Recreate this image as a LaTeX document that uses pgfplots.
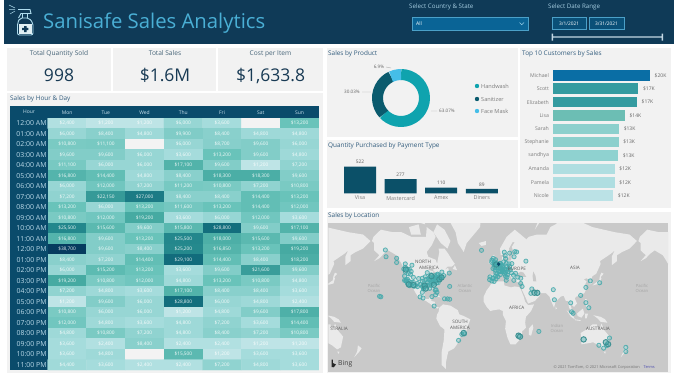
\documentclass[border=0pt]{standalone}
\usepackage{fontspec}
\setmainfont{Open Sans}
\usepackage{pgfplots}
\usepackage{pgfplotstable}
\pgfplotsset{compat=1.18}
\newcommand\fs[1]{\fontsize{#1}{#1}\selectfont}
\definecolor{navy}{RGB}{15,58,87}
\definecolor{panel}{RGB}{242,242,242}
\definecolor{ttl}{RGB}{50,92,125}
\definecolor{kpi}{RGB}{24,58,84}
\definecolor{kpit}{RGB}{70,100,120}
\definecolor{head}{RGB}{10,75,107}
\definecolor{hw}{RGB}{15,163,174}
\definecolor{sa}{RGB}{11,91,110}
\definecolor{fm}{RGB}{69,190,232}
\definecolor{paybar}{RGB}{11,80,104}
\definecolor{gr}{RGB}{125,125,125}
\definecolor{ocean}{RGB}{201,201,201}
\definecolor{landc}{RGB}{234,234,234}
\definecolor{dot}{RGB}{70,170,172}
\definecolor{pale}{RGB}{165,205,225}
\definecolor{tit}{RGB}{74,175,213}
\definecolor{iconln}{RGB}{175,220,238}
\definecolor{iconfl}{RGB}{225,240,245}
\definecolor{dd}{RGB}{10,100,150}
\definecolor{ddb}{RGB}{75,160,200}
\definecolor{chev}{RGB}{150,205,230}
\definecolor{dbox}{RGB}{10,80,120}
\definecolor{slider}{RGB}{195,215,228}
\definecolor{c1}{RGB}{10,110,165}
\definecolor{c2}{RGB}{52,155,160}
\definecolor{c3}{RGB}{108,190,180}
\definecolor{c4}{RGB}{140,208,205}
\definecolor{c5}{RGB}{143,210,208}
\definecolor{c6}{RGB}{175,222,225}
\definecolor{c7}{RGB}{187,226,230}
\pgfplotstableread[row sep=\\]{v\\
2400\\1200\\1200\\6000\\3600\\0\\13200\\
6000\\8400\\4800\\9900\\8400\\4800\\4800\\
10800\\11100\\0\\6000\\8700\\9600\\6000\\
9600\\9600\\6000\\3600\\13200\\9600\\4800\\
11100\\6000\\6000\\17100\\9600\\1200\\7200\\
16800\\14400\\4800\\8400\\18300\\18300\\9600\\
6000\\12000\\7200\\11200\\10800\\7200\\10800\\
7200\\22150\\27000\\8400\\8400\\14400\\13200\\
13200\\6000\\13200\\11600\\13200\\14400\\12000\\
10800\\12000\\19200\\3600\\6000\\12000\\3600\\
25500\\15600\\9600\\15800\\28800\\9600\\17100\\
16800\\9600\\13200\\25500\\18000\\15600\\9600\\
38700\\9600\\8400\\25200\\16850\\13200\\19200\\
8400\\7200\\14400\\29100\\14400\\8400\\18200\\
6000\\15200\\13200\\3600\\9600\\21600\\9600\\
19200\\10800\\12000\\4800\\13200\\10800\\4800\\
7200\\4800\\3600\\17100\\8400\\8400\\3600\\
1200\\9600\\6000\\28800\\6000\\4800\\2400\\
10800\\6000\\6000\\1200\\4800\\9600\\17800\\
12000\\4800\\3600\\4800\\7200\\3600\\14400\\
4800\\10800\\7200\\4800\\8400\\7200\\10800\\
3600\\2400\\8400\\2400\\2400\\1200\\1200\\
3600\\4800\\0\\15500\\1200\\3600\\3600\\
4400\\3600\\2400\\2400\\7200\\4800\\3600\\
}\heat
\pgfplotstablecreatecol[expr={\pgfplotstablerow}]{i}\heat
\pgfplotstableread[row sep=\\]{lon lat\\
-122.7 45.5\\-117.4 47.7\\-116 43.6\\-123 49.3\\-114 51\\-112 40.8\\-122.4 37.8\\-121.9 37.3\\-121.5 38.6\\-117.2 32.7\\-115 36\\-111 32.2\\-105 39.7\\-106.6 35\\-106.5 31.8\\-98.5 29.4\\-97.7 30.3\\-97.5 35.5\\-94.6 39\\-96 41.3\\-93.3 45\\-88 43\\-90.2 38.6\\-90 35.1\\-90 30\\-86.8 36.2\\-80.2 25.8\\-82.5 28\\-81.4 28.5\\-80.8 35.2\\-78.6 35.8\\-76.6 39.3\\-75.2 40\\-71 42.4\\-80 40.4\\-81.7 41.5\\-83 42.3\\-86 39.8\\-83 40\\-79.4 43.7\\-73.6 45.5\\-78.9 42.9\\-85.7 38.2\\-84.5 39.1\\-157.8 21.3\\-156 20.8\\-149.9 61.2\\-149 57\\-134.7 56\\-134.7 53\\-123 52\\-99 19.4\\-103 20.7\\-100 25.7\\-66 18.4\\-70 18.5\\-63 18\\-87 21\\-82 23\\-84 10\\-63 32\\-63.6 44.6\\-20 61\\
-125 48\\-120 48\\-115 46\\-119 44\\-124 42\\-120 39\\-118 37\\-116 34\\-120 35\\-124 38\\-112 36\\-109 33\\-100 32\\-103 34\\-100 37\\-95 33\\-92 33\\-93 36\\-88 33\\-85 35\\-82 37\\-80 38\\-78 40\\-76 42\\-85 41\\-90 41\\-92 39\\-88 37\\-100 40\\-98 32\\
-2.2 53.5\\-4.2 55.9\\-6.3 53.3\\-6 54.6\\-3.2 51.5\\-2.6 51.5\\2.3 48.9\\4.8 45.8\\5.4 43.3\\-0.6 44.8\\-1.5 47.2\\-4.5 48.4\\-3.7 40.4\\2.2 41.4\\-9.1 38.7\\-8.6 41.2\\-6 37.4\\-0.4 39.5\\12.5 41.9\\9.2 45.5\\14.3 40.9\\12.3 45.4\\13.4 38.1\\7.5 47\\8.5 47.4\\16.4 48.2\\11.6 48.1\\8.7 50.1\\13.4 52.5\\10 53.5\\7 51\\4.9 52.4\\4.4 50.8\\12.6 55.7\\10.8 59.9\\18 59.3\\12 57.7\\25 60.2\\21 52.2\\14.4 50\\19 47.5\\26 44.4\\23.3 42.7\\23.7 38\\29 41\\20.5 44.8\\16 45.8\\24 57\\40 54\\27.5 60\\33 40\\33 35\\34.8 32\\48 29.4\\46.7 24.7\\77 28.6\\78.5 17.4\\100.5 13.8\\114 22.3\\101.7 3.1\\103.8 1.3\\121 14\\125 8\\127 37.5\\121 31\\139.7 35.7\\57.5 -20.2\\-43 -23\\-46.6 -23.5\\-51 -30\\145 -37.8\\153 -27.5\\138.6 -35\\149 -35.3\\175 -37\\175 -41\\
0 49\\-2 49\\3 46\\1 44\\6 49\\9 49\\6 46\\-1 42\\3 50\\-1 52\\1 52\\6 52\\-3 53\\-1 55\\-5 40\\-3 37\\14 47\\17 52\\18 50\\10 46\\11 44\\15 43\\
}\cities
\pgfplotstableread[row sep=\\]{lon lat\\
-122.3 47.6\\-118.2 34\\-112 33.4\\-96.8 32.8\\-95.4 29.8\\-87.6 41.9\\-84.4 33.7\\-77 38.9\\-74 40.7\\-0.1 51.5\\51.5 25.3\\55.3 25.2\\30 -25\\32 -26\\118 -29\\151 -33.9\\148 -32\\-44 -22\\
}\bigcities
\newcommand\merc{{ln(tan(45+\thisrow{lat}/2))}}
\newcommand\poly[1]{\pgfplotsinvokeforeach{-360,0,360}{\addplot[fill=landc,draw=none,forget plot] table[row sep=\\,x expr={\thisrow{lon}+##1},y expr=\merc] {lon lat\\#1};}}
\newcommand\lake[1]{\addplot[fill=ocean,draw=none,forget plot] table[row sep=\\,x=lon,y expr=\merc] {lon lat\\#1};}
\newcommand\hx{{\coordindex-7*floor((\coordindex+0.5)/7)}}
\newcommand\hy{{floor((\coordindex+0.5)/7)}}
\begin{document}
\begin{tikzpicture}
\path[use as bounding box] (0pt,0pt) rectangle (680pt,-383pt);
\begin{scope}[x=1pt,y=-1pt]
\fill[white] (0,0) rectangle (680,383);
\fill[navy] (4,0) rectangle (674,44);
\foreach \a/\b/\c/\d in {7/48/110.5/91,113/48/215.5/91,218/48/323/91,7/93/323/373,327/48/518/137,327/140/518/208,520/48/671/208,327/212/671/373}
  \fill[panel] (\a,\b) rectangle (\c,\d);
% icon
\begin{scope}[draw=iconln,line width=0.9pt]
\draw (18,9.5) -- (30,9.5) -- (31,13.5) -- (21,13.5) -- (18.5,18);
\draw (22,13.5) -- (22,18) (27,13.5) -- (27,18);
\draw[rounded corners=2pt] (20,18) -- (29,18) -- (33,23) -- (33,35) -- (17.5,35) -- (17.5,23) -- cycle;
\fill[iconfl] (19,24) rectangle (31.5,33.5);
\fill[navy] (24,26) rectangle (26.5,32) (22.2,27.8) rectangle (28.3,30.2);
\draw[line width=0.5pt] (15,8) -- (9,5) (15,9.5) -- (9,9.5) (15,11) -- (10,14);
\end{scope}
\node[anchor=west,inner sep=0,text=tit,font=\fs{20.3}] at (43,23) {Sanisafe Sales Analytics};
\node[anchor=west,inner sep=0,text=pale,font=\fs{6.2}] at (409,7) {Select Country \& State};
\node[anchor=west,inner sep=0,text=pale,font=\fs{6.2}] at (548,7) {Select Date Range};
\draw[draw=ddb,line width=.6pt,fill=dd] (412,17) rectangle (528,30);
\node[anchor=west,inner sep=0,text=white,font=\fs{5}] at (416,23.7) {All};
\draw[chev,line width=.5pt] (519.5,22.5) -- (521.7,24.7) -- (524,22.5);
\draw[draw=ddb,line width=.6pt,fill=dbox] (552,17) rectangle (586,29.5);
\draw[draw=ddb,line width=.6pt,fill=dbox] (589,17) rectangle (624,29.5);
\node[inner sep=0,text=white,font=\fs{4.8}] at (569,23.3) {3/1/2021};
\node[inner sep=0,text=white,font=\fs{4.8}] at (606.5,23.3) {3/31/2021};
\fill[slider] (552,36.3) rectangle (662.7,37.7) (551.5,33.5) rectangle (553,40.5) (661.5,33.5) rectangle (663,40.5);
% KPI
\foreach \x/\t in {59/Total Quantity Sold,165/Total Sales,270.5/Cost per Item}{
 \node[inner sep=0,text=kpit,font=\fs{6.6}] at (\x,53.5) {\t};
}
\node[inner sep=0,text=kpi,font=\fs{17.5}] at (59,75.5) {998};
\node[inner sep=0,text=kpi,font=\fs{17.5}] at (165,75.5) {\$1.6M};
\node[inner sep=0,text=kpi,font=\fs{17.5}] at (270.5,75.5) {\$1,633.8};
% titles
\foreach \x/\y/\t in {10/99/Sales by Hour \& Day,328/54/Sales by Product,522/54/Top 10 Customers by Sales,328/146/Quantity Purchased by Payment Type,328/216/Sales by Location}
 \node[anchor=west,inner sep=0,text=ttl,font=\fs{6.4}] at (\x,\y) {\t};
% heat header
\fill[head] (10,106) rectangle (319,118);
\fill[head] (10,118) rectangle (47.7,370);
\node[inner sep=0,text=pale!60!white,font=\fs{5}] at (29,111.8) {Hour};
% map ocean
\fill[ocean] (328.3,223.3) rectangle (668.3,371.7);
\end{scope}

% heat map
\begin{axis}[at={(47.7pt,-118pt)},anchor=north west,scale only axis,width=271.3pt,height=252pt,
 xmin=-0.5,xmax=6.5,ymin=-0.5,ymax=23.5,y dir=reverse,axis line style={draw=none},tick style={draw=none},
 major tick length=0pt,
 xtick={0,...,6},xticklabels={Mon,Tue,Wed,Thu,Fri,Sat,Sun},xticklabel pos=upper,
 xticklabel style={font=\fs{5},text=pale!60!white,inner sep=0pt,yshift=3.5pt},
 ytick={0,...,23},yticklabels={12:00 AM,01:00 AM,02:00 AM,03:00 AM,04:00 AM,05:00 AM,06:00 AM,07:00 AM,08:00 AM,09:00 AM,10:00 AM,11:00 AM,12:00 PM,01:00 PM,02:00 PM,03:00 PM,04:00 PM,05:00 PM,06:00 PM,07:00 PM,08:00 PM,09:00 PM,10:00 PM,11:00 PM},
 yticklabel style={font=\fs{6.9},text=pale!75!white,inner sep=0pt,xshift=-1pt},
 colormap={heatc}{rgb255(0)=(243,243,243) rgb255(11)=(243,243,243) rgb255(12)=(190,228,230) rgb255(36)=(165,220,220) rgb255(96)=(130,205,200) rgb255(132)=(105,195,186) rgb255(192)=(70,170,162) rgb255(255)=(35,135,140) rgb255(290)=(18,108,124) rgb255(387)=(6,60,95)},
 point meta min=0,point meta max=38700]
\addplot[matrix plot*,mesh/cols=7,point meta=explicit] table[x expr=\hx,y expr=\hy,meta=v] {\heat};
\addplot[draw=none,mark=none,point meta=explicit,
  y filter/.expression={\thisrow{v}==0 ? nan : y},
  nodes near coords={\$\pgfmathprintnumber[fixed,precision=0,1000 sep={,},assume math mode=true]{\pgfplotspointmeta}},
  nodes near coords align=center,
  every node near coord/.style={font=\fs{4.8},text=white,text opacity=.9,inner sep=0pt,anchor=center}]
  table[x expr=\hx,y expr=\hy,meta=v] {\heat};
\end{axis}

% donut
\begin{axis}[at={(372pt,-69pt)},anchor=north west,scale only axis,width=58pt,height=58pt,
 xmin=-29,xmax=29,ymin=-29,ymax=29,axis lines=none,clip=false]
\addplot[hw,line width=11pt,data cs=polar,line join=round] coordinates {(90,23.5)(80,23.5)(70,23.5)(60,23.5)(50,23.5)(40,23.5)(30,23.5)(20,23.5)(10,23.5)(0,23.5)(-10,23.5)(-20,23.5)(-30,23.5)(-40,23.5)(-50,23.5)(-60,23.5)(-70,23.5)(-80,23.5)(-90,23.5)(-100,23.5)(-110,23.5)(-120,23.5)(-130,23.5)(-137,23.5)};
\addplot[sa,line width=11pt,data cs=polar,line join=round] coordinates {(-137,23.5)(-147,23.5)(-157,23.5)(-167,23.5)(-177,23.5)(-187,23.5)(-197,23.5)(-207,23.5)(-217,23.5)(-227,23.5)(-237,23.5)(-245,23.5)};
\addplot[fm,line width=11pt,data cs=polar,line join=round] coordinates {(-245,23.5)(-255,23.5)(-265,23.5)(-270,23.5)};
\end{axis}

% payment
\begin{axis}[at={(339.7pt,-163.3pt)},anchor=north west,scale only axis,width=162.4pt,height=30pt,
 ybar,bar width=32pt,xmin=-0.5,xmax=3.5,ymin=0,ymax=587,axis line style={draw=none},tick style={draw=none},major tick length=0pt,
 xtick=data,xticklabels={Visa,Mastercard,Amex,Diners},ytick=\empty,clip=false,/pgf/number format/assume math mode=true,
 xticklabel style={font=\fs{5.4},text=gr,inner sep=0pt,yshift=-2.5pt},
 nodes near coords,every node near coord/.style={font=\fs{4.8},text=black!65,inner sep=0pt,yshift=2.5pt}]
\addplot[fill=paybar,draw=none,bar shift=0pt] coordinates {(0,522)(1,277)(2,110)(3,89)};
\end{axis}

% top 10
\begin{axis}[at={(553.3pt,-68.6pt)},anchor=north west,scale only axis,width=96.7pt,height=133.8pt,
 xbar,bar width=10.5pt,xmin=0,xmax=20,ymin=-0.5,ymax=9.5,y dir=reverse,clip=false,
 axis line style={draw=none},tick style={draw=none},major tick length=0pt,xtick=\empty,
 ytick={0,...,9},yticklabels={Michael,Scott,Elizabeth,Lisa,Sarah,Stephanie,sandhya,Amanda,Pamela,Nicole},
 yticklabel style={font=\fs{5.2},text=gr,inner sep=0pt,xshift=-4.2pt},
 point meta=explicit symbolic,nodes near coords,
 every node near coord/.style={font=\fs{5},text=black!60,inner sep=0pt,anchor=west,xshift=4.5pt},
 every axis plot/.append style={bar shift=0pt,draw=none}]
\addplot[fill=c1] coordinates {(20,0) [\$20K]};
\addplot[fill=c2] coordinates {(17.6,1) [\$17K]};
\addplot[fill=c2] coordinates {(17.3,2) [\$17K]};
\addplot[fill=c3] coordinates {(14.8,3) [\$14K]};
\addplot[fill=c4] coordinates {(13.6,4) [\$13K]};
\addplot[fill=c4] coordinates {(13.5,5) [\$13K]};
\addplot[fill=c5] coordinates {(13.4,6) [\$13K]};
\addplot[fill=c6] coordinates {(12.7,7) [\$12K]};
\addplot[fill=c6] coordinates {(12.7,8) [\$12K]};
\addplot[fill=c7] coordinates {(12.4,9) [\$12K]};
\end{axis}

% map
\begin{axis}[at={(328.3pt,-223.3pt)},anchor=north west,scale only axis,width=340pt,height=148.4pt,
 xmin=-227,xmax=232.4,ymin=-1.211,ymax=1.923,axis lines=none]
\poly{-166 68\\-156 71\\-140 70\\-128 70\\-115 68\\-95 68\\-94 72\\-85 70\\-82 68\\-87 64\\-94 60\\-92 57\\-82 55\\-80 52\\-79 55\\-77 60\\-78 62\\-70 62\\-65 59\\-60 55\\-56 52\\-60 50\\-66 50\\-70 47\\-65 49\\-64 46\\-66 44\\-70 43\\-70 41\\-74 40\\-76 37\\-76 35\\-81 31\\-80 26\\-81 25\\-83 29\\-85 30\\-90 29\\-94 29\\-97 27\\-97 22\\-95 18\\-91 18\\-90 21\\-87 21\\-88 16\\-83 15\\-83 10\\-80 9\\-77 8\\-80 7\\-85 10\\-90 13\\-95 16\\-105 20\\-109 25\\-113 31\\-115 31\\-117 33\\-121 35\\-124 40\\-124 48\\-130 54\\-135 58\\-146 61\\-152 59\\-158 56\\-165 54\\-158 58\\-165 61\\-165 65\\-168 66\\}
\poly{-80 73\\-70 71\\-62 66\\-66 62\\-75 65\\-85 70\\}
\poly{-118 72\\-105 73\\-102 69\\-115 69\\}
\poly{-90 80\\-70 83\\-62 82\\-75 78\\-88 76\\}
\poly{-125 74\\-116 76\\-100 76\\-96 73\\-110 74\\}
\poly{-59 48\\-53 47\\-56 51\\}
\poly{-84 22\\-75 20\\-78 22\\-82 23\\}
\poly{-74 19\\-69 18.5\\-69 19.5\\-72 20\\}
\poly{-73 78\\-60 82\\-30 83.5\\-18 80\\-22 72\\-40 65\\-44 60\\-52 65\\-55 70\\}
\poly{-77 8\\-72 12\\-62 10.5\\-52 5\\-50 0\\-44 -2\\-35 -6\\-39 -15\\-41 -22\\-48 -26\\-53 -34\\-57 -38\\-65 -41\\-68 -50\\-68 -55\\-74 -52\\-74 -42\\-71 -30\\-70 -18\\-76 -14\\-81 -5\\-80 0\\-78 3\\}
\poly{-17 15\\-17 21\\-13 28\\-9 32\\-6 36\\3 37\\10 37\\11 33\\20 31\\25 32\\32 31\\34 27\\37 21\\39 15\\43 11\\51 12\\47 4\\40 -3\\39 -10\\40 -16\\35 -20\\35 -24\\32 -29\\26 -34\\19 -34\\15 -27\\12 -17\\13 -8\\9 -1\\9 4\\4 6\\-4 5\\-8 4\\-13 9\\}
\poly{49 -12\\50 -16\\47 -25\\44 -24\\44 -17\\}
\poly{-9 37\\-9 43\\-2 43.5\\-1 46\\-4 48\\2 51\\7 53.5\\8 57\\11 56\\10 54\\14 54\\20 54.5\\21 57\\24 59\\30 60\\23 60\\21 63\\25 65.5\\22 65.5\\17 62\\18 60\\16 56\\13 55.5\\11 59\\6 58\\5 62\\14 68\\25 71\\40 67\\35 65\\44 68\\55 69\\68 69\\73 72\\80 73\\100 77\\113 74\\130 72\\160 70\\180 69\\190 66\\180 62\\170 60\\163 58\\163 54\\156 51\\156 57\\160 61\\155 59\\140 54\\141 52\\135 44\\130 42\\128 39\\129 35\\126 34\\126 38\\122 40\\118 39\\122 37\\120 34\\122 30\\119 25\\113 22\\108 21\\106 19\\109 13\\105 9\\100 13\\103 2\\101 3\\98 9\\97 16\\94 16\\91 22\\87 21\\80 15\\78 8\\73 18\\72 21\\67 25\\57 25\\57 27\\50 30\\48 30\\51 25\\56 25\\59 22\\52 16\\43 13\\39 21\\35 28\\35 36\\30 36\\27 37\\26 40\\29 41\\41 41\\37 45\\33 46\\28 44\\28 41\\24 40\\23 37\\19 42\\14 45\\18 40\\16 38\\12 42\\8 44\\3 43\\0 39\\-2 37\\-5 36\\}
\poly{114 -22\\122 -18\\130 -12\\136 -12\\136 -15\\140 -17\\142 -11\\146 -19\\153 -26\\150 -37\\145 -39\\138 -35\\131 -32\\124 -33\\115 -34\\}
\poly{145 -41\\148 -41\\147 -43\\}
\poly{173 -35\\178 -38\\175 -41\\168 -46\\172 -41\\}
\poly{131 -1\\141 -3\\147 -6\\150 -10\\141 -9\\137 -5\\}
\poly{109 1\\117 7\\119 1\\115 -4\\110 -2\\}
\poly{95 5\\104 -2\\106 -6\\101 -3\\}
\poly{106 -6\\114 -7\\114 -8\\106 -7\\}
\poly{120 1\\124 1\\122 -5\\120 -5\\}
\poly{120 18\\122 18\\124 11\\126 7\\122 7\\120 14\\}
\poly{130 33\\135 34\\140 35\\142 40\\141 41\\145 44\\142 45\\140 42\\139 38\\133 35\\}
\poly{80 9.5\\82 7\\80 6\\}
\poly{-5 50\\1 51\\1 53\\-2 56\\-3 58.5\\-6 57\\-3 54\\-5 52\\}
\poly{-10 52\\-6 52\\-6 55\\-10 54\\}
\poly{-24 65\\-14 66\\-14 64\\-20 63.5\\}
\poly{12 78\\25 80\\20 77\\}
\poly{52 71\\68 77\\58 75\\}
\lake{50 46\\53 42\\54 37\\50 37\\49 42\\}
\lake{-92 48\\-85 48\\-85 46\\-88 42\\-82 43\\-80 44\\-84 46\\-90 47\\}
\addplot[only marks,mark=*,mark size=2.1pt,mark options={draw=dot,fill=dot,fill opacity=.3,draw opacity=.85,line width=.8pt}] table[x=lon,y expr=\merc] {\cities};
\addplot[only marks,mark=*,mark size=2.7pt,mark options={draw=dot!85!black,fill=dot,fill opacity=.45,draw opacity=.95,line width=1pt}] table[x=lon,y expr=\merc] {\bigcities};
\addplot[only marks,mark=*,mark size=1.6pt,mark options={draw=head,fill=head}] table[row sep=\\,x=lon,y expr=\merc] {lon lat\\3 51.8\\};
\end{axis}

% overlay labels
\begin{scope}[x=1pt,y=-1pt]
\foreach \y/\c/\t in {86/hw/Handwash,99/sa/Sanitizer,111/fm/Face Mask}{
 \fill[\c] (477,\y) circle (2.2);
 \node[anchor=west,inner sep=0,text=gr,font=\fs{5.6}] at (481,\y) {\t};
}
\draw[gr!60,line width=.4pt] (386,67) -- (391,68) (362,92) -- (371,92) (431,111) -- (437,111);
\node[inner sep=0,text=black!60,font=\fs{4.6}] at (379,67) {6.9\%};
\node[inner sep=0,text=black!60,font=\fs{4.6}] at (352,92) {30.03\%};
\node[inner sep=0,text=black!60,font=\fs{4.6}] at (447,111) {63.07\%};
\foreach \x/\y/\t in {423/261.7/NORTH,429/268.3/AMERICA,575/268/ASIA,516.7/308.3/AFRICA,460/321.7/SOUTH,460/327.5/AMERICA,598/329.3/AUSTRALIA,339/329.3/STRALIA,517/269/EUROPE}
 \node[inner sep=0,text=black!65,font=\fs{4.6}] at (\x,\y) {\t};
\foreach \x/\y/\t in {374/286/Pacific,374/290.5/Ocean,642/286/Pacific,642/290.5/Ocean,465/286/Atlantic,465/290.5/Ocean,557/326/Indian,557/331/Ocean}
 \node[inner sep=0,text=black!35,font=\fs{4.2}] at (\x,\y) {\t};
\fill[black!85] (331.5,359.5) rectangle (332.8,367) (332.8,363) -- (336,364.5) -- (333.5,367.5) -- (332.8,366) -- cycle;
\node[anchor=west,inner sep=0,text=black!75,font=\fs{6.8}] at (338,363.8) {Bing};
\node[anchor=east,inner sep=0,text=black!55,font=\fs{3.9}] at (640,367) {\textcopyright{} 2021 TomTom, \textcopyright{} 2021 Microsoft Corporation};
\node[anchor=east,inner sep=0,text=blue!55!black!70,font=\fs{3.9}] at (655,367) {Terms};
\end{scope}
\end{tikzpicture}
\end{document}
